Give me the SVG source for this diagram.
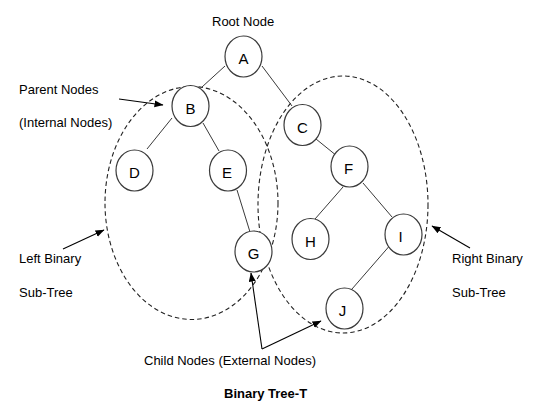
<svg xmlns="http://www.w3.org/2000/svg" width="533" height="412" viewBox="0 0 533 412">
<defs>
<style>
.bg{fill:#ffffff}
.node ellipse{fill:#ffffff;stroke:#3a3a3a;stroke-width:1.2}
.node text{font-family:"Liberation Sans",Arial,sans-serif;font-size:15px;fill:#000;text-anchor:middle}
.edge{stroke:#3a3a3a;stroke-width:1;fill:none}
.sub{fill:none;stroke:#222;stroke-width:1.1;stroke-dasharray:4.5 3}
.ptr{stroke:#000;stroke-width:1.1;fill:none;marker-end:url(#ah)}
.lbl{font-family:"Liberation Sans",Arial,sans-serif;font-size:13px;fill:#000}
.title{font-family:"Liberation Sans",Arial,sans-serif;font-size:13px;font-weight:bold;fill:#000}
</style>
<marker id="ah" markerUnits="userSpaceOnUse" markerWidth="10" markerHeight="8" refX="8.5" refY="3.5" orient="auto">
<path d="M0,0 L9,3.5 L0,7 Z" fill="#000"/>
</marker>
</defs>
<rect class="bg" x="0" y="0" width="533" height="412"/>
<g id="subtrees">
<ellipse class="sub" cx="191.5" cy="203" rx="86.5" ry="116.5"/>
<ellipse class="sub" cx="343" cy="204.5" rx="85" ry="128.5"/>
</g>
<g id="connectors">
<line class="edge" x1="225" y1="66" x2="202" y2="87"/>
<line class="edge" x1="262" y1="66" x2="292" y2="106"/>
<line class="edge" x1="172" y1="118" x2="147" y2="149"/>
<line class="edge" x1="203" y1="123" x2="219" y2="151"/>
<line class="edge" x1="237" y1="190" x2="250" y2="232"/>
<line class="edge" x1="316" y1="139" x2="337" y2="156"/>
<line class="edge" x1="343" y1="187" x2="315" y2="219"/>
<line class="edge" x1="363" y1="183" x2="392" y2="217"/>
<line class="edge" x1="392" y1="243" x2="352" y2="289"/>
<line class="ptr" x1="119" y1="99" x2="163" y2="105"/>
<line class="ptr" x1="63" y1="249" x2="104" y2="230"/>
<line class="ptr" x1="470" y1="248" x2="432" y2="226"/>
<line class="ptr" x1="262" y1="349" x2="251" y2="273"/>
<line class="ptr" x1="262" y1="349" x2="321" y2="321"/>
</g>
<g id="node-A" class="node"><ellipse cx="243.5" cy="56.5" rx="18.5" ry="20.5"/><text x="243.5" y="64">A</text></g>
<g id="node-B" class="node"><ellipse cx="190.5" cy="106" rx="18.5" ry="20.5"/><text x="190.5" y="113.5">B</text></g>
<g id="node-C" class="node"><ellipse cx="302.5" cy="125" rx="18.5" ry="20.5"/><text x="302.5" y="132.5">C</text></g>
<g id="node-D" class="node"><ellipse cx="134.5" cy="170.5" rx="18.5" ry="20.5"/><text x="134.5" y="178">D</text></g>
<g id="node-E" class="node"><ellipse cx="228" cy="170.5" rx="18.5" ry="20.5"/><text x="227" y="178">E</text></g>
<g id="node-F" class="node"><ellipse cx="349.5" cy="166.5" rx="18.5" ry="20.5"/><text x="348.5" y="174">F</text></g>
<g id="node-G" class="node"><ellipse cx="253.5" cy="251.5" rx="18.5" ry="20.5"/><text x="253.5" y="259">G</text></g>
<g id="node-H" class="node"><ellipse cx="310.5" cy="239" rx="18.5" ry="20.5"/><text x="310.5" y="246.5">H</text></g>
<g id="node-I" class="node"><ellipse cx="403.5" cy="234.5" rx="18.5" ry="20.5"/><text x="400.5" y="242">I</text></g>
<g id="node-J" class="node"><ellipse cx="344.5" cy="308.5" rx="18.5" ry="20.5"/><text x="342.5" y="316">J</text></g>
<g id="labels">
<text class="lbl" x="212" y="26">Root Node</text>
<text class="lbl" x="19" y="94">Parent Nodes</text>
<text class="lbl" x="19" y="127">(Internal Nodes)</text>
<text class="lbl" x="19" y="263">Left Binary</text>
<text class="lbl" x="19" y="297">Sub-Tree</text>
<text class="lbl" x="452" y="263">Right Binary</text>
<text class="lbl" x="452" y="297">Sub-Tree</text>
<text class="lbl" x="144" y="365">Child Nodes (External Nodes)</text>
<text class="title" x="224" y="398">Binary Tree-T</text>
</g>
</svg>
